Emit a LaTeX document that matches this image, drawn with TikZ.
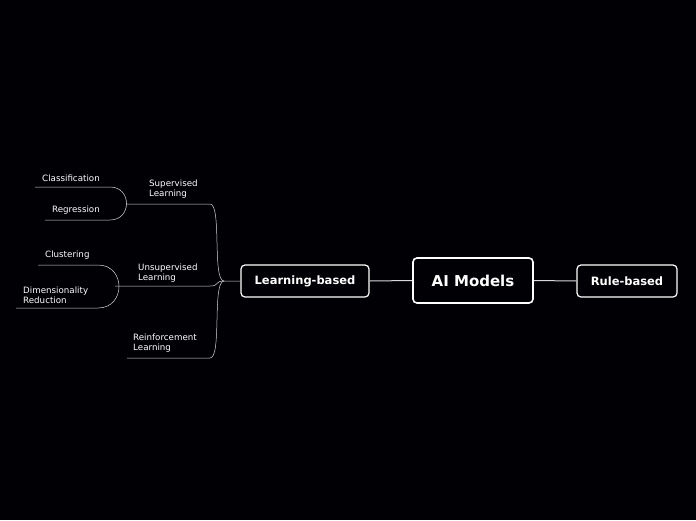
\documentclass[tikz,border=0pt]{standalone}
\usepackage{fontspec}
\setmainfont{DejaVu Sans}
\begin{document}
\begin{tikzpicture}[x=1pt,y=-1pt,
  main/.style={draw=white,rounded corners=4pt,text=white,font=\bfseries,line width=1.2pt,inner sep=0pt},
  lbl/.style={text=white,font=\fontsize{8.7}{10.5}\selectfont,anchor=south west,align=left,inner sep=0pt},
  ln/.style={draw=white!85!black,line width=0.5pt}]
\fill[black!97!blue!60!black] (0,0) rectangle (696,520);
\useasboundingbox (0,0) rectangle (696,520);
\node[main,minimum width=120pt,minimum height=45pt,font=\bfseries\fontsize{15}{17}\selectfont,line width=1.6pt] (ai) at (473,280.5) {AI Models};
\node[main,minimum width=100pt,minimum height=32pt,font=\bfseries\fontsize{11.5}{13}\selectfont] (rb) at (627,281) {Rule-based};
\node[main,minimum width=128pt,minimum height=32pt,font=\bfseries\fontsize{11.5}{13}\selectfont] (lb) at (305,281) {Learning-based};
\draw[ln,line width=1pt] (ai.east) -- (rb.west);
\draw[ln,line width=1pt] (lb.east) -- (ai.west);
% branch nodes
\node[lbl] (sl) at (149,199) {Supervised\\Learning};
\node[lbl] (ul) at (138,283) {Unsupervised\\Learning};
\node[lbl] (rl) at (133,353) {Reinforcement\\Learning};
\coordinate (s1) at (210,204); \coordinate (s0) at (126,204);
\coordinate (u1) at (210,286); \coordinate (u0) at (115,286);
\coordinate (r1) at (210,358); \coordinate (r0) at (127,358);
\draw[ln] (lb.west) -- (224,281) .. controls (212,281) and (222,204) .. (s1) -- (s0);
\draw[ln] (224,281) .. controls (214,281) and (220,286) .. (u1) -- (u0);
\draw[ln] (224,281) .. controls (212,281) and (222,358) .. (r1) -- (r0);
% leaves
\node[lbl] (cl) at (42,182) {Classification};
\node[lbl] (rg) at (52,215) {Regression};
\node[lbl] (cu) at (45,260) {Clustering};
\node[lbl] (dr) at (23,304) {Dimensionality\\Reduction};
\draw[ln] (35,187) -- (110,187) .. controls (132,187) and (132,220) .. (110,220) -- (45,220);
\draw[ln] (38,265) -- (98,265) .. controls (126,265) and (126,308) .. (98,308) -- (16,308);
\end{tikzpicture}
\end{document}
